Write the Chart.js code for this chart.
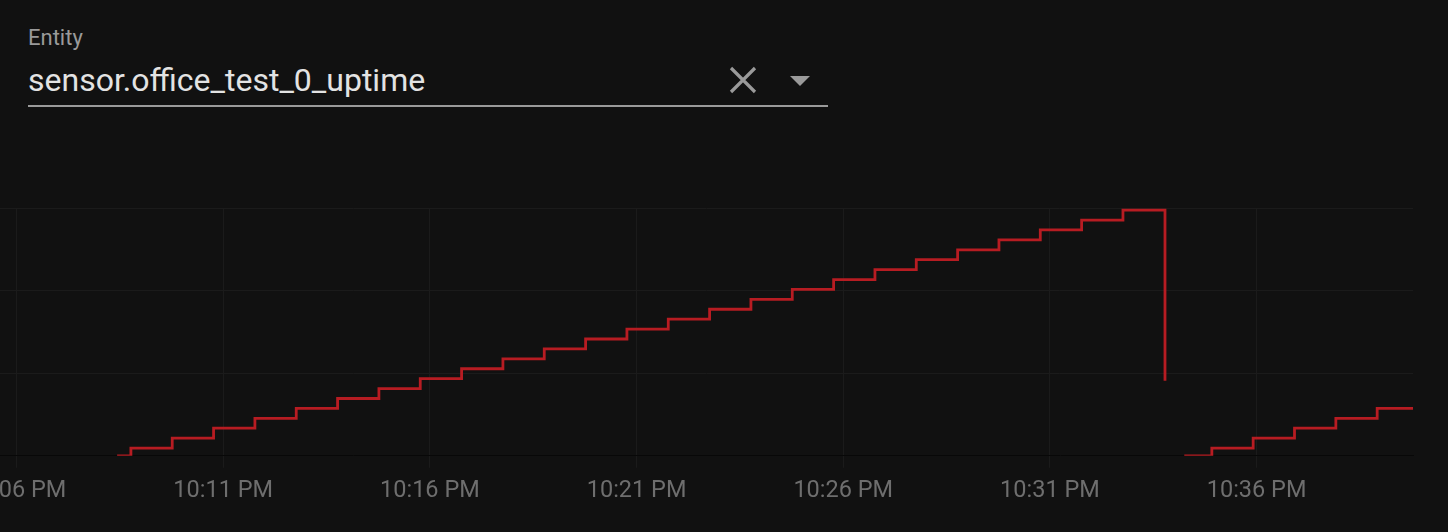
<!DOCTYPE html>
<html>
<head>
<meta charset="utf-8">
<script src="https://cdn.jsdelivr.net/npm/chart.js@4.4.1/dist/chart.umd.min.js"></script>
<style>
html, body { margin: 0; padding: 0; background: #111111; width: 1448px; height: 532px; overflow: hidden; font-family: Roboto, sans-serif; }
.field { position: absolute; left: 28px; top: 0; width: 800px; height: 108px; }
.field .label { position: absolute; left: 0; top: 24px; font-size: 22px; line-height: 28px; color: #9a9a9a; }
.field .value { position: absolute; left: 0; top: 60px; font-size: 32px; line-height: 40px; color: #e3e3e3; }
.field .line { position: absolute; left: 0; top: 105px; width: 800px; height: 2px; background: #9a9a9a; }
.field svg { position: absolute; }
#wrap { position: absolute; left: -100px; top: 180px; width: 1548px; height: 352px; }
</style>
</head>
<body>
<div class="field">
	<div class="label">Entity</div>
	<div class="value">sensor.office_test_0_uptime</div>
	<svg style="left:701px;top:66px" width="28" height="28" viewBox="0 0 28 28">
		<path d="M2 2 L26 26 M26 2 L2 26" stroke="#9a9a9a" stroke-width="3.2" fill="none"/>
	</svg>
	<svg style="left:761px;top:75px" width="22" height="12" viewBox="0 0 22 12">
		<path d="M1 1 L21 1 L11 11 Z" fill="#9a9a9a"/>
	</svg>
	<div class="line"></div>
</div>
<div id="wrap"><canvas id="chart"></canvas></div>
<script>
// uptime sensor history, times are PM (22:xx)
var pointTimes = ['22:08:26', '22:08:46', '22:09:46', '22:10:46', '22:11:46', '22:12:46', '22:13:46', '22:14:46',
	'22:15:46', '22:16:46', '22:17:46', '22:18:46', '22:19:46', '22:20:46', '22:21:46', '22:22:46', '22:23:46',
	'22:24:46', '22:25:46', '22:26:46', '22:27:46', '22:28:46', '22:29:46', '22:30:46', '22:31:46', '22:32:46',
	'22:33:47', '22:34:00', '22:34:15', '22:34:55', '22:35:55', '22:36:55', '22:37:55', '22:38:55', '22:39:47'];
var uptimeValues = [0, 47, 107, 167, 227, 287, 347, 407,
	467, 527, 587, 647, 707, 767, 827, 887, 947,
	1007, 1067, 1127, 1187, 1247, 1307, 1367, 1427, 1487,
	455, null, 0, 47, 107, 167, 227, 287, 287];
var tickTimes = ['22:06', '22:11', '22:16', '22:21', '22:26', '22:31', '22:36'];
var rangeStart = '22:05:36';
var rangeEnd = '22:39:47';

var toMin = (t) => {
	var p = t.split(':').map(Number);
	return (p[0] - 22) * 60 + p[1] + (p[2] || 0) / 60;
}

var formatMin = (m) => {
	var total = Math.round(m);
	var h = 22 + Math.floor(total / 60);
	var mm = total % 60;
	return (h > 12 ? h - 12 : h) + ':' + (mm < 10 ? '0' + mm : mm) + ' PM';
}

var points = pointTimes.map((t, i) => ({ x: toMin(t), y: uptimeValues[i] }));

var config = {
	type: 'line',
	data: {
		datasets: [{
			label: 'sensor.office_test_0_uptime',
			data: points,
			stepped: 'before',
			borderColor: '#b71c22',
			borderWidth: 2.8,
			pointRadius: 0,
			spanGaps: false,
			fill: false
		}]
	},
	options: {
		responsive: true,
		maintainAspectRatio: false,
		animation: false,
		layout: { padding: { left: 100, right: 35, top: 28, bottom: 18 } },
		plugins: { legend: { display: false }, tooltip: { enabled: false } },
		scales: {
			x: {
				type: 'linear',
				min: toMin(rangeStart),
				max: toMin(rangeEnd),
				afterBuildTicks: (scale) => {
					scale.ticks = tickTimes.map(t => ({ value: toMin(t) }));
				},
				grid: { color: '#1b1b1b', tickLength: 12 },
				border: { color: '#080808' },
				ticks: {
					color: '#6e6e6e',
					font: { family: 'Roboto', size: 23.5 },
					padding: 9,
					maxRotation: 0,
					autoSkip: false,
					callback: (v) => formatMin(v)
				}
			},
			y: {
				min: 0,
				max: 1500,
				grid: { color: '#1b1b1b', drawTicks: false },
				border: { display: false },
				ticks: { display: false, stepSize: 500 }
			}
		}
	}
};

window.setupChart = (id, cfg) => {
	var context = document.getElementById(id).getContext('2d');
	return new Chart(context, cfg);
}

setupChart('chart', config);
</script>
</body>
</html>
